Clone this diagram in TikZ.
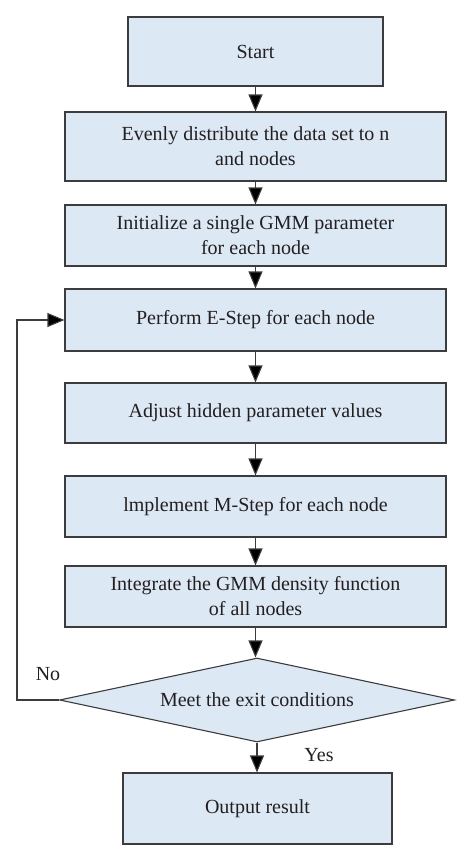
\documentclass[tikz,border=0pt]{standalone}
\usepackage{fontspec}
\setmainfont{Liberation Serif}
\usetikzlibrary{arrows.meta,shapes.geometric}
\definecolor{boxfill}{HTML}{DDE8F5}
\definecolor{boxline}{HTML}{3C3C3C}
\definecolor{txt}{HTML}{231F20}
\begin{document}
\begin{tikzpicture}[x=1pt,y=-1pt,
  every node/.style={text=txt,font=\fontsize{20}{25}\selectfont},
  procbox/.style={draw=boxline,fill=boxfill,line width=1.1pt,inner sep=0pt,align=center,minimum width=381pt},
  flow/.style={draw=boxline,line width=1.1pt,-{Triangle[width=14pt,length=17pt,fill=black]}}]
\useasboundingbox (0,0) rectangle (474,862);
\node[procbox,minimum width=255pt,minimum height=69pt] (start) at (255.5,51.5) {Start};
\node[procbox,minimum height=69pt] (b2) at (255.5,146.5) {Evenly distribute the data set to n\\and nodes};
\node[procbox,minimum height=61pt] (b3) at (255.5,235.5) {Initialize a single GMM parameter\\for each node};
\node[procbox,minimum height=62pt] (b4) at (255.5,320) {Perform E-Step for each node};
\node[procbox,minimum height=60pt] (b5) at (255.5,413) {Adjust hidden parameter values};
\node[procbox,minimum height=61pt] (b6) at (255.5,506.5) {lmplement M-Step for each node};
\node[procbox,minimum height=61pt] (b7) at (255.5,596.5) {Integrate the GMM density function\\of all nodes};
\node[diamond,shape aspect=4.7,draw=boxline,fill=boxfill,line width=1.1pt,inner sep=0pt,minimum width=395pt,minimum height=84pt] (dec) at (257,700) {Meet the exit conditions};
\node[procbox,minimum width=269pt,minimum height=71pt] (out) at (257.5,808.5) {Output result};
\node (no) at (48,674) {No};
\node (yes) at (319,755) {Yes};
\coordinate (lb) at (17,700);
\coordinate (lt) at (17,320);
\draw[flow] (start) -- (b2);
\draw[flow] (b2) -- (b3);
\draw[flow] (b3) -- (b4);
\draw[flow] (b4) -- (b5);
\draw[flow] (b5) -- (b6);
\draw[flow] (b6) -- (b7);
\draw[flow] (b7.south) -- (b7.south |- dec.north);
\draw[flow] (dec.south) -- (dec.south |- out.north);
\draw[flow] (dec.west) -- (lb) -- (lt) -- (b4.west);
\end{tikzpicture}
\end{document}
